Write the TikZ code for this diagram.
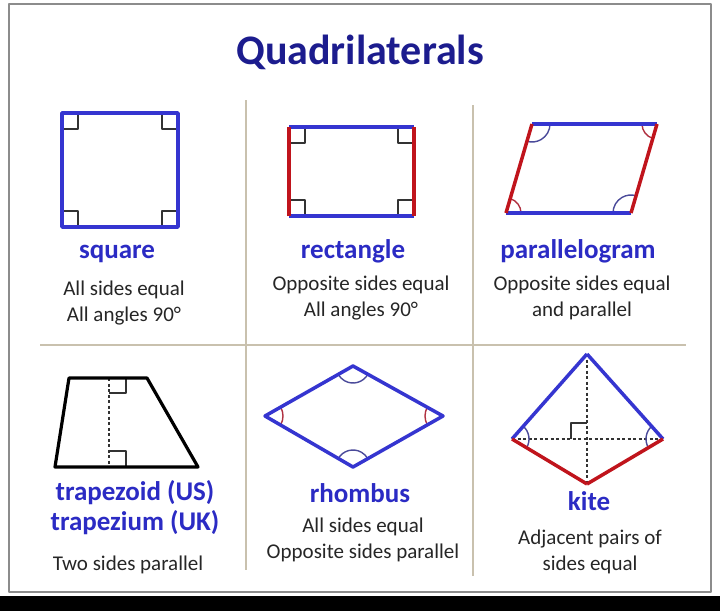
\documentclass[tikz,border=0pt]{standalone}
\usepackage{fontspec}
\setmainfont{Carlito}
\usepackage{tikz}

\definecolor{titleblue}{HTML}{1C1C8E}
\definecolor{labelblue}{HTML}{2B2BC4}
\definecolor{sideblue}{HTML}{3535D0}
\definecolor{sidered}{HTML}{C0141C}
\definecolor{gridtan}{HTML}{C9C1AE}
\definecolor{arcblue}{HTML}{4A4A9A}
\definecolor{arcred}{HTML}{B03040}

\begin{document}
\begin{tikzpicture}
  [x=1pt,y=-1pt,line join=round,
   blueside/.style={draw=sideblue,line width=3.5pt},
   redside/.style={draw=sidered,line width=3.5pt},
   blackside/.style={draw=black,line width=3.2pt},
   rightmark/.style={draw=black!80,line width=1.6pt},
   dotline/.style={draw=black!80,line width=1.8pt,dash pattern=on 3pt off 2.5pt},
   anglearc/.style={line width=1.4pt},
   gridline/.style={draw=gridtan,line width=1.5pt},
   headtext/.style={text=titleblue,font=\fontsize{42}{50}\selectfont\bfseries,anchor=base},
   kindtext/.style={text=labelblue,font=\fontsize{27}{32}\selectfont\bfseries,anchor=base},
   infotext/.style={text=black!85,font=\fontsize{21}{26}\selectfont,anchor=base}]

  % frame
  \useasboundingbox (0,0) rectangle (720,611);
  \fill[white] (0,0) rectangle (720,611);
  \fill[black] (0,596) rectangle (720,611);
  \draw[draw=black!45,line width=1.5pt] (9,4) rectangle (711,592);

  \node[headtext] (title) at (360,64) {Quadrilaterals};

  % grid
  \draw[gridline] (246,100) -- (246,570);
  \draw[gridline] (473,105) -- (473,576);
  \draw[gridline] (40,345) -- (686,345);

  % square
  \coordinate (s1) at (62,113);
  \coordinate (s2) at (178,113);
  \coordinate (s3) at (178,227);
  \coordinate (s4) at (62,227);
  \draw[rightmark] (62,129) -- (78,129) -- (78,113);
  \draw[rightmark] (162,113) -- (162,129) -- (178,129);
  \draw[rightmark] (62,211) -- (78,211) -- (78,227);
  \draw[rightmark] (162,227) -- (162,211) -- (178,211);
  \draw[blueside] (s1) -- (s2) -- (s3) -- (s4) -- cycle;

  \node[kindtext] (square) at (117,258) {square};
  \node[infotext] (squareA) at (124,295) {All sides equal};
  \node[infotext] (squareB) at (124,321) {All angles 90°};

  % rectangle
  \coordinate (r1) at (289,127);
  \coordinate (r2) at (414,127);
  \coordinate (r3) at (414,216);
  \coordinate (r4) at (289,216);
  \draw[rightmark] (289,143) -- (305,143) -- (305,127);
  \draw[rightmark] (398,127) -- (398,143) -- (414,143);
  \draw[rightmark] (289,200) -- (305,200) -- (305,216);
  \draw[rightmark] (398,216) -- (398,200) -- (414,200);
  \foreach \from/\to in {r1/r2,r3/r4}
    \draw[blueside] (\from) -- (\to);
  \foreach \from/\to in {r2/r3,r4/r1}
    \draw[redside] (\from) -- (\to);

  \node[kindtext] (rectangle) at (353,258) {rectangle};
  \node[infotext] (rectangleA) at (361,290) {Opposite sides equal};
  \node[infotext] (rectangleB) at (361,316) {All angles 90°};

  % parallelogram
  \coordinate (p1) at (532,124);
  \coordinate (p2) at (657,124);
  \coordinate (p3) at (631,213);
  \coordinate (p4) at (506,213);
  \draw[anglearc,arcblue] (p1) ++(0:18) arc[start angle=0,end angle=106.3,radius=18];
  \draw[anglearc,arcblue] (p3) ++(180:18) arc[start angle=180,end angle=286.3,radius=18];
  \draw[anglearc,arcred] (p2) ++(106.3:15) arc[start angle=106.3,end angle=180,radius=15];
  \draw[anglearc,arcred] (p4) ++(-73.7:15) arc[start angle=-73.7,end angle=0,radius=15];
  \foreach \from/\to in {p1/p2,p3/p4}
    \draw[blueside] (\from) -- (\to);
  \foreach \from/\to in {p2/p3,p4/p1}
    \draw[redside] (\from) -- (\to);

  \node[kindtext] (parallelogram) at (578,258) {parallelogram};
  \node[infotext] (parallelogramA) at (582,290) {Opposite sides equal};
  \node[infotext] (parallelogramB) at (582,316) {and parallel};

  % trapezoid
  \coordinate (t1) at (69,378);
  \coordinate (t2) at (147,378);
  \coordinate (t3) at (198,467);
  \coordinate (t4) at (55,467);
  \coordinate (th) at (109,378);
  \coordinate (tf) at (109,467);
  \draw[dotline] (th) -- (tf);
  \draw[rightmark] (109,393) -- (126,393) -- (126,378);
  \draw[rightmark] (109,451) -- (126,451) -- (126,467);
  \draw[blackside] (t1) -- (t2) -- (t3) -- (t4) -- cycle;

  \node[kindtext] (trapezoid) at (135,500) {trapezoid (US)};
  \node[kindtext] (trapezium) at (135,530) {trapezium (UK)};
  \node[infotext] (trapezoidA) at (128,570) {Two sides parallel};

  % rhombus
  \coordinate (h1) at (353,366);
  \coordinate (h2) at (443,416);
  \coordinate (h3) at (353,467);
  \coordinate (h4) at (265,416);
  \draw[anglearc,arcblue] (h1) ++(29.5:17) arc[start angle=29.5,end angle=150.5,radius=17];
  \draw[anglearc,arcblue] (h3) ++(209.5:17) arc[start angle=209.5,end angle=330.5,radius=17];
  \draw[anglearc,arcred] (h4) ++(-30:18) arc[start angle=-30,end angle=30,radius=18];
  \draw[anglearc,arcred] (h2) ++(150:18) arc[start angle=150,end angle=210,radius=18];
  \draw[blueside] (h1) -- (h2) -- (h3) -- (h4) -- cycle;

  \node[kindtext] (rhombus) at (360,502) {rhombus};
  \node[infotext] (rhombusA) at (363,532) {All sides equal};
  \node[infotext] (rhombusB) at (363,558) {Opposite sides parallel};

  % kite
  \coordinate (k1) at (587,354);
  \coordinate (k2) at (663,439);
  \coordinate (k3) at (587,484);
  \coordinate (k4) at (512,439);
  \foreach \from/\to in {k1/k3,k4/k2}
    \draw[dotline] (\from) -- (\to);
  \draw[rightmark] (571,439) -- (571,423) -- (587,423);
  \draw[anglearc,arcblue] (k4) ++(-48.6:17) arc[start angle=-48.6,end angle=31,radius=17];
  \draw[anglearc,arcblue] (k2) ++(149.4:17) arc[start angle=149.4,end angle=228.2,radius=17];
  \foreach \from/\to in {k4/k1,k1/k2}
    \draw[blueside] (\from) -- (\to);
  \foreach \from/\to in {k2/k3,k3/k4}
    \draw[redside] (\from) -- (\to);

  \node[kindtext] (kite) at (589,510) {kite};
  \node[infotext] (kiteA) at (590,544) {Adjacent pairs of};
  \node[infotext] (kiteB) at (590,570) {sides equal};
\end{tikzpicture}
\end{document}
